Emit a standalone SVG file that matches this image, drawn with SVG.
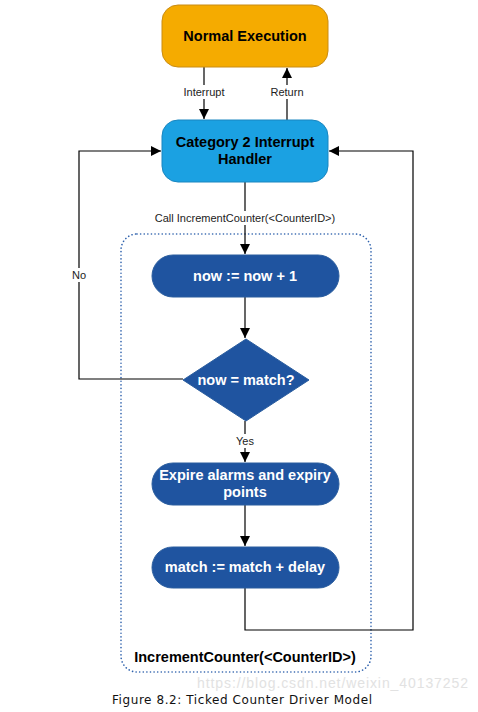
<svg xmlns="http://www.w3.org/2000/svg" width="478" height="712" viewBox="0 0 478 712">
<defs>
<marker id="ah" viewBox="0 0 10 10" refX="10" refY="5" markerWidth="10" markerHeight="10" markerUnits="userSpaceOnUse" orient="auto">
<path d="M0,0 L10,5 L0,10 z" fill="#000"/>
</marker>
<style>
.ln{fill:none;stroke:#000;stroke-width:1.2}
.lbl{font-family:"Liberation Sans",Arial,sans-serif;font-size:11px;fill:#222;text-anchor:middle}
.bt{font-family:"Liberation Sans",Arial,sans-serif;font-size:14.5px;font-weight:bold;text-anchor:middle}
.wt{fill:#fff}
.dk{fill:#1f54a0;stroke:#2a5d9e;stroke-width:1}
</style>
</defs>
<rect width="478" height="712" fill="#fff"/>
<g id="container">
<rect x="121" y="234" width="250" height="438" rx="16" fill="none" stroke="#2f62ad" stroke-width="1.6" stroke-dasharray="0.1 3.5" stroke-linecap="round"/>
<text x="245" y="662" class="bt" fill="#000">IncrementCounter(&lt;CounterID&gt;)</text>
</g>
<g id="connectors">
<line class="ln" x1="204" y1="67" x2="204" y2="119" marker-end="url(#ah)"/>
<line class="ln" x1="287" y1="120" x2="287" y2="68" marker-end="url(#ah)"/>
<rect x="180" y="85" width="48" height="14" fill="#fff"/>
<text x="204" y="96" class="lbl">Interrupt</text>
<rect x="268" y="85" width="38" height="14" fill="#fff"/>
<text x="287" y="96" class="lbl">Return</text>
<line class="ln" x1="245" y1="182" x2="245" y2="254" marker-end="url(#ah)"/>
<rect x="148" y="211" width="196" height="14" fill="#fff"/>
<text x="245" y="222" class="lbl">Call IncrementCounter(&lt;CounterID&gt;)</text>
<line class="ln" x1="245" y1="297" x2="245" y2="338" marker-end="url(#ah)"/>
<polyline class="ln" points="183,379 79,379 79,151 161,151" marker-end="url(#ah)"/>
<rect x="70" y="268" width="18" height="14" fill="#fff"/>
<text x="79" y="279" class="lbl">No</text>
<line class="ln" x1="245" y1="421" x2="245" y2="462" marker-end="url(#ah)"/>
<rect x="232" y="434" width="26" height="14" fill="#fff"/>
<text x="245" y="445" class="lbl">Yes</text>
<line class="ln" x1="245" y1="505" x2="245" y2="546" marker-end="url(#ah)"/>
<polyline class="ln" points="245,588 245,630 413,630 413,151 329,151" marker-end="url(#ah)"/>
</g>
<g id="normal">
<rect x="162" y="5" width="166" height="62" rx="16" fill="#f5ab00" stroke="#c98c14" stroke-width="1"/>
<text x="245" y="41" class="bt" fill="#000">Normal Execution</text>
</g>
<g id="handler">
<rect x="162" y="120" width="166" height="62" rx="16" fill="#1ba1e2" stroke="#1a86c0" stroke-width="1"/>
<text x="245" y="147" class="bt" fill="#000">Category 2 Interrupt</text>
<text x="245" y="164" class="bt" fill="#000">Handler</text>
</g>
<g id="now">
<rect x="152" y="255" width="187" height="42" rx="21" class="dk"/>
<text x="245" y="281" class="bt wt">now := now + 1</text>
</g>
<g id="decision">
<polygon points="246,339 309,380 246,421 183,380" class="dk"/>
<text x="246" y="385" class="bt wt">now = match?</text>
</g>
<g id="expire">
<rect x="152" y="463" width="187" height="42" rx="21" class="dk"/>
<text x="245" y="480" class="bt wt">Expire alarms and expiry</text>
<text x="245" y="497" class="bt wt">points</text>
</g>
<g id="match">
<rect x="152" y="547" width="187" height="41" rx="20.5" class="dk"/>
<text x="245" y="572" class="bt wt">match := match + delay</text>
</g>
<text x="197" y="688" font-family="'Liberation Sans',Arial,sans-serif" font-size="14" fill="#e2e2e2" textLength="271">https://blog.csdn.net/weixin_40137252</text>
<text x="112" y="704" font-family="'DejaVu Sans',Verdana,sans-serif" font-size="12" fill="#111" textLength="260">Figure 8.2: Ticked Counter Driver Model</text>
</svg>
